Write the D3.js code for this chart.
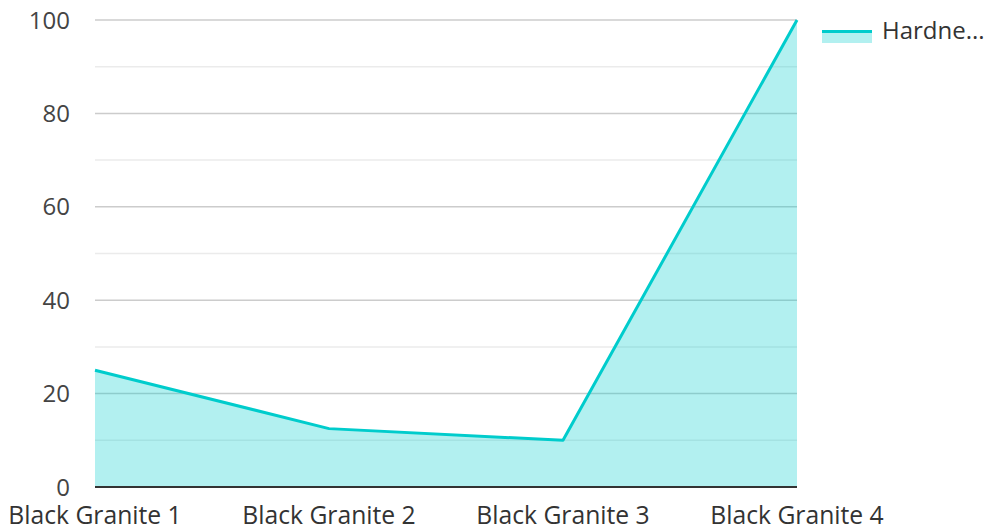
<!DOCTYPE html>
<html><head><meta charset="utf-8">
<script src="https://cdn.jsdelivr.net/npm/d3@7"></script>
<style>body{margin:0;background:#fff}svg{display:block;font-family:"Open Sans",sans-serif}</style>
</head><body><svg id="c" width="989" height="529"></svg>
<script>
const categories = ["Black Granite 1","Black Granite 2","Black Granite 3","Black Granite 4"];
const hardness = [25, 12.5, 10, 100];
const yTicks = [0,20,40,60,80,100];
const minorTicks = [10,30,50,70,90];
const seriesName = "Hardne...";

const svg = d3.select("#c");
const m = {l:95, r:192, t:20, b:42};
const W = 989, H = 529;
const x = d3.scalePoint().domain(categories).range([m.l, W-m.r]).padding(0);
const y = d3.scaleLinear().domain([0,100]).range([H-m.b, m.t]);
const col = "#00cccc";

svg.append("g").selectAll("line").data(minorTicks).join("line")
  .attr("x1", m.l).attr("x2", W-m.r).attr("y1", d=>y(d)).attr("y2", d=>y(d))
  .attr("stroke","#ebebeb").attr("stroke-width",1.5);
svg.append("g").selectAll("line").data(yTicks.filter(d=>d>0)).join("line")
  .attr("x1", m.l).attr("x2", W-m.r).attr("y1", d=>y(d)).attr("y2", d=>y(d))
  .attr("stroke","#cccccc").attr("stroke-width",1.5);

const pts = categories.map((c,i)=>[c,hardness[i]]);
svg.append("path").datum(pts)
  .attr("d", d3.area().x(d=>x(d[0])).y0(y(0)).y1(d=>y(d[1])))
  .attr("fill", col).attr("fill-opacity",0.3);
svg.append("path").datum(pts)
  .attr("d", d3.line().x(d=>x(d[0])).y(d=>y(d[1])))
  .attr("fill","none").attr("stroke", col).attr("stroke-width",3).attr("stroke-linejoin","round");

svg.append("line").attr("x1",m.l).attr("x2",W-m.r).attr("y1",y(0)).attr("y2",y(0))
  .attr("stroke","#333").attr("stroke-width",2);

svg.append("g").selectAll("text").data(yTicks).join("text")
  .attr("x", 70).attr("y", d=>y(d)+8.5).attr("text-anchor","end")
  .attr("font-size",24).attr("fill","#444").text(d=>d);
svg.append("g").selectAll("text").data(categories).join("text")
  .attr("x", d=>x(d)).attr("y", 524).attr("text-anchor","middle")
  .attr("font-size",24.7).attr("fill","#333").text(d=>d);

const lg = svg.append("g");
lg.append("rect").attr("x",822).attr("y",33).attr("width",50).attr("height",10).attr("fill",col).attr("fill-opacity",0.3);
lg.append("line").attr("x1",822).attr("x2",872).attr("y1",31.5).attr("y2",31.5).attr("stroke",col).attr("stroke-width",3);
lg.append("text").attr("x",882).attr("y",39).attr("font-size",24).attr("fill","#333").text(seriesName);
</script></body></html>
